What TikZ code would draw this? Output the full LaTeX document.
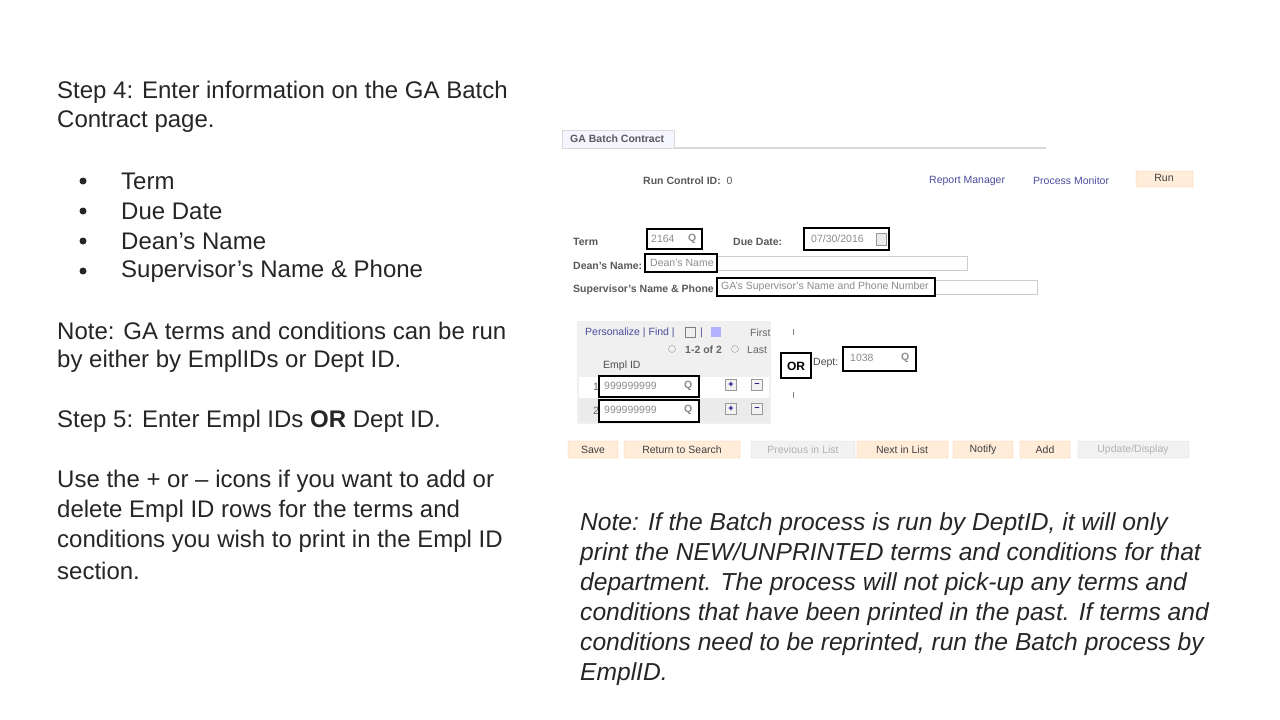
\documentclass[tikz,border=0pt]{standalone}
\usepackage{fontspec}
\setmainfont{Liberation Sans}
\begin{document}
\begin{tikzpicture}[x=1pt,y=-1pt,
  big/.style={anchor=west,inner sep=0pt,font=\fontsize{24}{26}\selectfont,text=black!85},
  note/.style={anchor=west,inner sep=0pt,font=\fontsize{24.6}{26}\selectfont\itshape,text=black!85},
  lbl/.style={anchor=west,inner sep=0pt,font=\fontsize{10.5}{12}\selectfont\bfseries,text=black!65},
  val/.style={anchor=west,inner sep=0pt,font=\fontsize{10.5}{12}\selectfont,text=black!45},
  lnk/.style={anchor=west,inner sep=0pt,font=\fontsize{10.5}{12}\selectfont,text=blue!45!black!70},
  hl/.style={draw=black,line width=1.4pt},
  fld/.style={draw=black!20,fill=white},
  btn/.style={draw=orange!40,fill=orange!15,rounded corners=1pt},
  gbtn/.style={draw=black!15,fill=black!5,rounded corners=1pt},
  bt/.style={anchor=center,inner sep=0pt,font=\fontsize{10.5}{12}\selectfont,text=black!75},
  gbt/.style={anchor=center,inner sep=0pt,font=\fontsize{10.5}{12}\selectfont,text=black!30},
  pm/.style={draw=black!40,fill=black!5,minimum size=11pt,inner sep=0pt,font=\fontsize{9}{9}\selectfont\bfseries,text=blue!50!black}]
\useasboundingbox (0,0) rectangle (1280,720);
\fill[white] (0,0) rectangle (1280,720);
% left text
\node[big] (s4a) at (57,92) {Step 4: Enter information on the GA Batch};
\node[big] (s4b) at (57,122) {Contract page.};
\foreach \y/\t [count=\i] in {181/Term,211/Due Date,241/Dean’s Name,271/Supervisor’s Name \& Phone}{
  \fill[black!85] (83,\y) circle (3.5pt);
  \node[big] (b\i) at (121,\y) {\t};}
\node[big] (n1) at (57,331) {Note: GA terms and conditions can be run};
\node[big] (n2) at (57,361) {by either by EmplIDs or Dept ID.};
\node[big] (s5) at (57,421) {Step 5: Enter Empl IDs \textbf{OR} Dept ID.};
\node[big] (u1) at (57,481) {Use the + or – icons if you want to add or};
\node[big] (u2) at (57,511) {delete Empl ID rows for the terms and};
\node[big] (u3) at (57,541) {conditions you wish to print in the Empl ID};
\node[big] (u4) at (57,571) {section.};
% right note
\foreach \y/\t [count=\i] in {524/{Note: If the Batch process is run by DeptID, it will only},
  554/{print the NEW/UNPRINTED terms and conditions for that},
  584/{department. The process will not pick-up any terms and},
  614/{conditions that have been printed in the past. If terms and},
  644/{conditions need to be reprinted, run the Batch process by},
  674/{EmplID.}}{\node[note] (r\i) at (580,\y) {\t};}
% screenshot
\draw[black!15,line width=1.5pt] (674,148) -- (1046,148);
\draw[fill=blue!4,draw=black!15] (562,148) rectangle (674,130);
\node[lbl] (tab) at (570,139) {GA Batch Contract};
\node[lbl] (rc) at (643,181) {Run Control ID:\ \ \mdseries 0};
\node[lnk] (rm) at (929,181) {Report Manager};
\node[lnk] (pmn) at (1033,181) {Process Monitor};
\draw[btn] (1136,171) rectangle (1193,187);
\node[bt] (run) at (1164,178) {Run};
\node[lbl] (lt) at (573,242) {Term};
\draw[hl,fill=white] (647,229) rectangle (702,249);
\node[val] (vt) at (651,239) {2164};
\node[val] (q1) at (688,239) {\textbf{Q}};
\node[lbl] (ld) at (733,242) {Due Date:};
\draw[hl,fill=white] (804,228) rectangle (889,250);
\node[val] (vd) at (811,239) {07/30/2016};
\draw[black!40,fill=black!8] (876,233) rectangle (886,245);
\node[lbl] (ldn) at (573,266) {Dean's Name:};
\draw[fld] (717,256) rectangle (967,270);
\draw[hl,fill=white] (645,254) rectangle (717,272);
\node[val] (vdn) at (650,263) {Dean's Name};
\node[lbl] (ls) at (573,290) {Supervisor's Name \& Phone};
\draw[fld] (935,280) rectangle (1037,294);
\draw[hl,fill=white] (717,278) rectangle (935,296);
\node[val] (vs) at (721,287) {GA's Supervisor's Name and Phone Number};
% grid
\fill[black!6] (577,321) rectangle (771,424);
\node[lnk] (pers) at (585,333) {Personalize | Find |};
\draw[black!50] (685,327) rectangle (695,337);
\node[lnk] (bar) at (700,333) {|};
\fill[blue!30] (711,327) rectangle (721,337);
\node[val] (fi) at (750,333) {\color{black!60}First};
\draw[black!40] (672,349) circle (3.5pt);
\node[val] (of) at (685,350) {\color{black!60}\textbf{1-2 of 2}};
\draw[black!40] (735,349) circle (3.5pt);
\node[val] (la) at (747,350) {\color{black!60}Last};
\node[lbl] (eid) at (603,366) {\mdseries\color{black!70}Empl ID};
\fill[white] (579,377) rectangle (769,398);
\fill[black!8] (579,398) rectangle (769,422);
\node[val] (one) at (593,387) {\color{black!60}1};
\node[val] (two) at (593,411) {\color{black!60}2};
\draw[hl,fill=white] (599,376) rectangle (699,397);
\draw[hl,fill=white] (599,400) rectangle (699,422);
\node[val] (e1) at (604,386) {999999999};
\node[val] (e2) at (604,410) {999999999};
\node[val] (q2) at (684,386) {\textbf{Q}};
\node[val] (q3) at (684,410) {\textbf{Q}};
\node[pm] (p1) at (731,385) {+};
\node[pm] (m1) at (757,385) {–};
\node[pm] (p2) at (731,409) {+};
\node[pm] (m2) at (757,409) {–};
\draw[black!50] (793,329) -- (793,335);
\draw[black!50] (793,392) -- (793,398);
\draw[hl,fill=white] (781,353) rectangle (811,378);
\node[inner sep=0pt,font=\fontsize{12}{12}\selectfont\bfseries] (or) at (796,366) {OR};
\node[lbl] (dl) at (813,363) {\mdseries\color{black!70}Dept:};
\draw[hl,fill=white] (843,347) rectangle (916,371);
\node[val] (dv) at (850,358) {1038};
\node[val] (q4) at (901,358) {\textbf{Q}};
% buttons
\draw[btn] (568,441) rectangle (618,458); \node[bt] (bs) at (593,449.5) {Save};
\draw[btn] (624,441) rectangle (740,458); \node[bt] (br) at (682,449.5) {Return to Search};
\draw[gbtn] (751,441) rectangle (855,458); \node[gbt] (bp) at (803,449.5) {Previous in List};
\draw[btn] (857,441) rectangle (948,458); \node[bt] (bn) at (902,449.5) {Next in List};
\draw[btn] (953,441) rectangle (1013,458); \node[bt] (bno) at (983,449.5) {Notify};
\draw[btn] (1020,441) rectangle (1070,458); \node[bt] (ba) at (1045,449.5) {Add};
\draw[gbtn] (1078,441) rectangle (1189,458); \node[gbt] (bu) at (1133,449.5) {Update/Display};
\end{tikzpicture}
\end{document}
